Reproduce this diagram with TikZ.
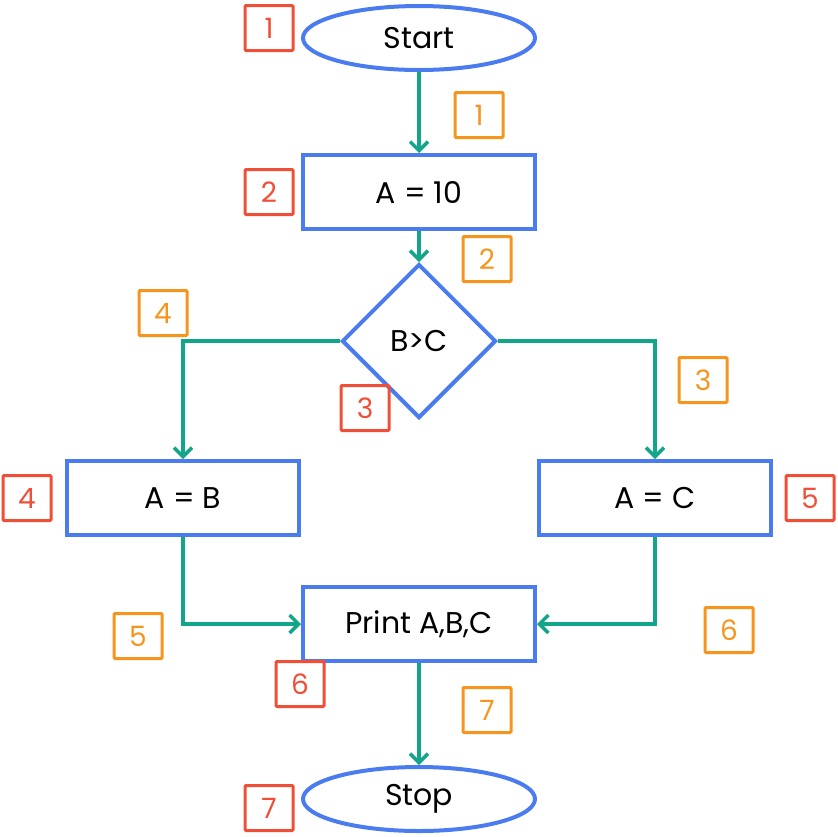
\documentclass[tikz,border=0pt]{standalone}
\usepackage{fontspec}
\setmainfont{Poppins}
\usetikzlibrary{shapes.geometric,arrows.meta}
\definecolor{bl}{HTML}{4A7CF0}
\definecolor{rd}{HTML}{F04E37}
\definecolor{or}{HTML}{F7941D}
\definecolor{tl}{HTML}{12A58A}
\begin{document}
\begin{tikzpicture}[x=1pt,y=-1pt,
 shp/.style={draw=bl,line width=4pt,font=\fontsize{30}{30}\selectfont,inner sep=0pt},
 rect/.style={shp,rectangle,minimum width=232pt,minimum height=74pt},
 ell/.style={shp,ellipse,minimum width=232pt,minimum height=64pt},
 lab/.style={draw=#1,line width=3pt,rounded corners=1pt,text=#1,minimum width=48pt,minimum height=45pt,inner sep=0pt,font=\fontsize{28}{28}\selectfont},
 con/.style={draw=tl,line width=3.5pt,-{Straight Barb[length=9pt,width=18pt,line width=3.5pt]}}]
\useasboundingbox (0,0) rectangle (838,836);
\node[ell] (start) at (419,38) {Start};
\node[rect] (a10) at (419,192) {A = 10};
\node[shp,diamond,minimum width=154pt,minimum height=154pt,aspect=1] (dec) at (419,341) {B>C};
\node[rect] (ab) at (183,498) {A = B};
\node[rect] (ac) at (655,498) {A = C};
\node[rect] (pr) at (419,624) {Print A,B,C};
\node[ell] (stop) at (419,799) {Stop};
\node[lab=rd] (r1) at (269,28) {1};
\node[lab=rd] (r2) at (269,192) {2};
\node[lab=rd] (r3) at (365,408) {3};
\node[lab=rd] (r4) at (27,498) {4};
\node[lab=rd] (r5) at (810,498) {5};
\node[lab=rd] (r6) at (300,684) {6};
\node[lab=rd] (r7) at (269,808) {7};
\node[lab=or] (o1) at (479,115) {1};
\node[lab=or] (o2) at (487,259) {2};
\node[lab=or] (o3) at (703,380) {3};
\node[lab=or] (o4) at (163,313) {4};
\node[lab=or] (o5) at (138,636) {5};
\node[lab=or] (o6) at (729,630) {6};
\node[lab=or] (o7) at (487,710) {7};
\draw[con] (start) -- (a10);
\draw[con] (a10) -- (dec);
\draw[con] (dec.west) -| (ab.north);
\draw[con] (dec.east) -| (ac.north);
\draw[con] (ab.south) |- (pr.west);
\draw[con] (ac.south) |- (pr.east);
\draw[con] (pr) -- (stop);
\end{tikzpicture}
\end{document}
